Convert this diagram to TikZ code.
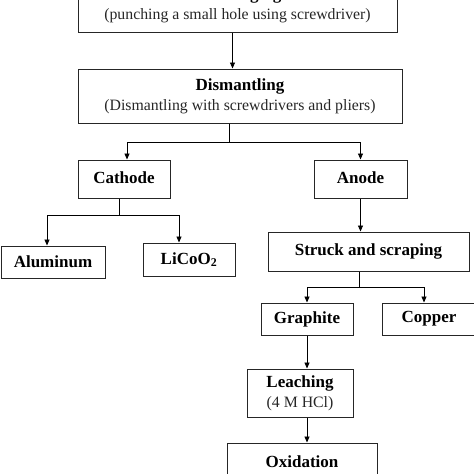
\documentclass[tikz,border=0pt]{standalone}
\usepackage{fontspec}
\setmainfont{Liberation Serif}
\usetikzlibrary{arrows.meta, calc, positioning}
\tikzstyle{block} = [rectangle, line width=1pt, draw=black!85, align=center, inner sep=2pt, font=\fontsize{17}{20}\selectfont]
\tikzstyle{arrow} = [line width=0.8pt, -{Triangle[length=6pt, width=5pt]}]
\tikzstyle{branch} = [line width=0.8pt]
\newcommand{\sub}[1]{{\fontsize{15.8}{20}\selectfont\color{black!85}#1}}

\begin{document}
\begin{tikzpicture}[x=1pt, y=1pt]
	\useasboundingbox (0,0) rectangle (474,-474);
	\node (Discharging) [block, minimum width=319pt, minimum height=54pt] at (237.5,-5) {\textbf{Discharging}\\\sub{(punching a small hole using screwdriver)}};
	\node (Dismantling) [block, minimum width=324pt, minimum height=54pt] at (240,-96) {\textbf{Dismantling}\\\sub{(Dismantling with screwdrivers and pliers)}};
	\node (Cathode) [block, minimum width=92pt, minimum height=38pt] at (124,-179) {\raisebox{3pt}{\textbf{Cathode}}};
	\node (Anode) [block, minimum width=93pt, minimum height=38pt] at (360.5,-179) {\raisebox{3pt}{\textbf{Anode}}};
	\node (Aluminum) [block, minimum width=104pt, minimum height=32pt] at (53,-262) {\textbf{Aluminum}};
	\node (LiCoO) [block, minimum width=92pt, minimum height=33pt] at (189,-259.5) {\textbf{LiCoO\textsubscript{2}}};
	\node (Struck) [block, minimum width=201pt, minimum height=39pt] at (368.5,-251.5) {\textbf{Struck and scraping}};
	\node (Graphite) [block, minimum width=92pt, minimum height=32pt] at (307,-319) {\textbf{Graphite}};
	\node (Copper) [block, minimum width=94pt, minimum height=32pt] at (429,-319) {\textbf{Copper}};
	\node (Leaching) [block, minimum width=106pt, minimum height=48pt] at (300,-393) {\textbf{Leaching}\\\sub{(4 M HCl)}};
	\node (Oxidation) [block, minimum width=150pt, minimum height=38pt] at (302,-462) {\textbf{Oxidation}};
	\coordinate (SplitTop) at ($(Dismantling.south)+(-11,-19)$);
	\coordinate (SplitCathode) at ($(Cathode.south)+(-5,-17)$);
	\coordinate (SplitAnode) at ($(Struck.south)+(-9.5,-16)$);
	\draw [arrow] ([xshift=-5pt]Discharging.south) -- ([xshift=-5pt]Discharging.south |- Dismantling.north);
	\draw [branch] (Dismantling.south -| SplitTop) -- (SplitTop);
	\draw [arrow] (SplitTop) -| ([xshift=3pt]Cathode.north);
	\draw [arrow] (SplitTop) -| (Anode.north);
	\draw [branch] (Cathode.south -| SplitCathode) -- (SplitCathode);
	\draw [arrow] (SplitCathode) -| ([xshift=-6pt]Aluminum.north);
	\draw [arrow] (SplitCathode) -| ([xshift=-10pt]LiCoO.north);
	\draw [arrow] (Anode.south) -- (Anode.south |- Struck.north);
	\draw [branch] (Struck.south -| SplitAnode) -- (SplitAnode);
	\draw [arrow] (SplitAnode) -| (Graphite.north);
	\draw [arrow] (SplitAnode) -| ([xshift=-5pt]Copper.north);
	\draw [arrow] (Graphite.south) -- (Graphite.south |- Leaching.north);
	\draw [arrow] (Graphite.south |- Leaching.south) -- (Graphite.south |- Oxidation.north);
\end{tikzpicture}
\end{document}
